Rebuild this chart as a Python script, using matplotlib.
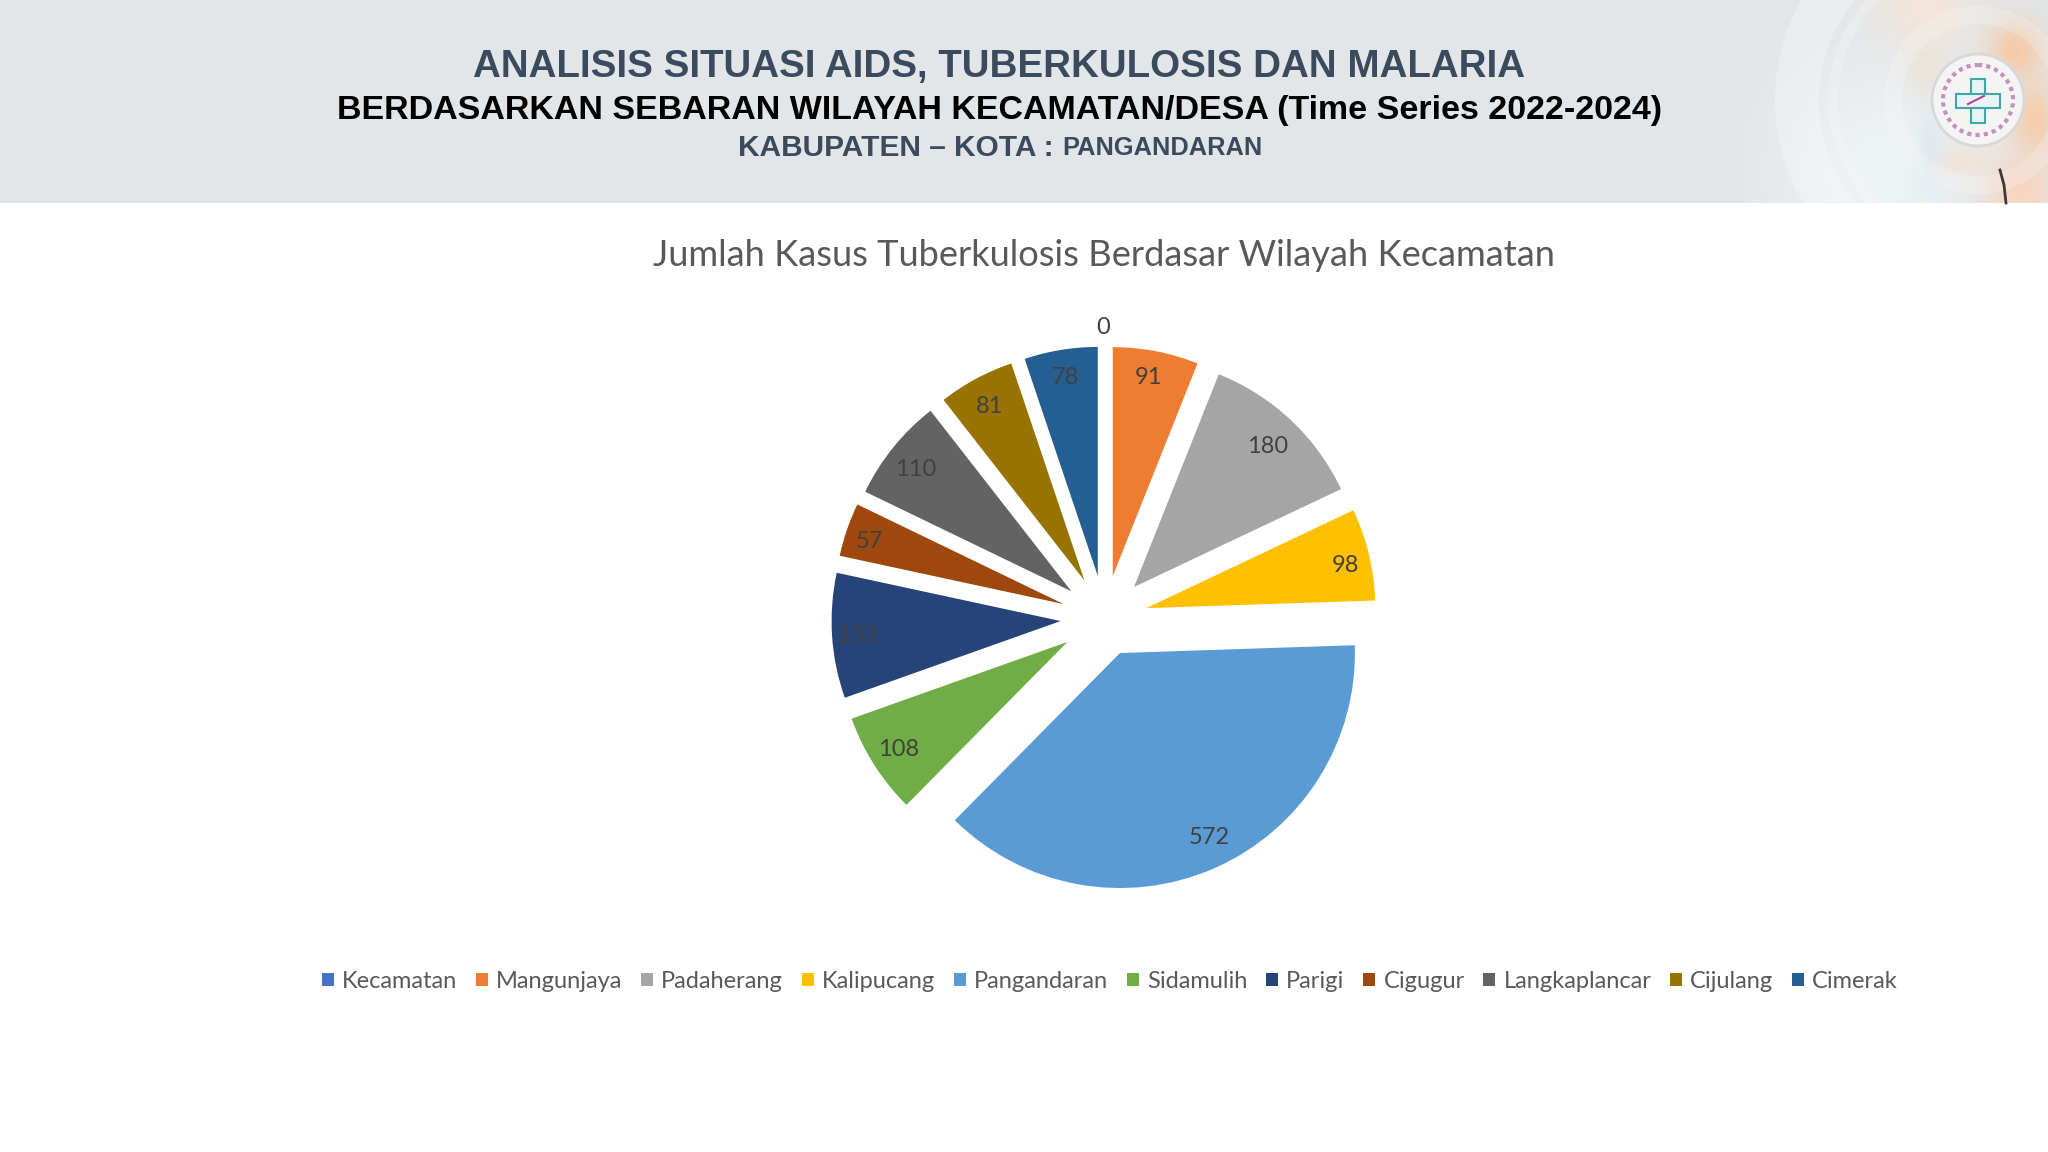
import numpy as np
import matplotlib
matplotlib.use("Agg")
import matplotlib.pyplot as plt
from matplotlib.patches import Rectangle, Circle

districts = ["Kecamatan", "Mangunjaya", "Padaherang", "Kalipucang", "Pangandaran", "Sidamulih",
             "Parigi", "Cigugur", "Langkaplancar", "Cijulang", "Cimerak"]
cases = [0, 91, 180, 98, 572, 108, 133, 57, 110, 81, 78]
colors = ["#4472C4", "#ED7D31", "#A5A5A5", "#FFC000", "#5B9BD5", "#70AD47",
          "#264478", "#9E480E", "#636363", "#997300", "#255E91"]
explode = [0.187, 0.187, 0.187, 0.187, 0.166, 0.193, 0.193, 0.19, 0.187, 0.187, 0.187]
# nudges of the value labels, in pixels (right, down)
label_dx = [0, -2, -4, 3, 8, 1, -3, -4, 1, 1, 0]
label_dy = [0, -1, 6, 5, 0, -1, 1, 3, 5, 3, 0]

W, H = 2048, 1152
fig = plt.figure(figsize=(W / 100, H / 100), dpi=100, facecolor="white")
bg = fig.add_axes([0, 0, 1, 1])
bg.set_xlim(0, W); bg.set_ylim(H, 0); bg.axis("off")

# header band with a soft picture on its right
BAND_H = 203
bg.add_patch(Rectangle((0, 0), W, BAND_H, fc="#E2E6E9", ec="none", zorder=0))
yy, xx = np.mgrid[0:BAND_H, 1700:W]
img = np.ones(xx.shape + (3,)) * np.array([0xE2, 0xE6, 0xE9]) / 255

def blob(cx, cy, sx, sy, col, a):
    global img
    m = a * np.exp(-((xx - cx) / sx) ** 2 - ((yy - cy) / sy) ** 2)[..., None]
    img = img * (1 - m) + np.array(col) * m

blob(1880, 170, 100, 110, (0.94, 0.96, 0.97), 0.9)
blob(1925, 5, 50, 45, (0.97, 0.90, 0.84), 0.8)
blob(1925, 70, 22, 28, (0.93, 0.87, 0.80), 0.5)
blob(2015, 50, 28, 30, (0.97, 0.78, 0.62), 0.85)
blob(2035, 120, 25, 40, (0.98, 0.78, 0.62), 0.8)
blob(2020, 190, 35, 35, (0.98, 0.83, 0.74), 0.9)
blob(1960, 160, 25, 16, (0.96, 0.88, 0.80), 0.7)
blob(1930, 150, 14, 40, (0.86, 0.90, 0.93), 0.6)
bg.imshow(img, extent=(1700, W, BAND_H, 0), aspect="auto", zorder=1, interpolation="bilinear")
bg.set_xlim(0, W); bg.set_ylim(H, 0)
band_clip = Rectangle((0, 0), W, BAND_H, transform=bg.transData)
for rad, wid, alpha in [(181, 44, 0.28), (145, 10, 0.2), (85, 18, 0.18)]:
    c = Circle((1978, 100), rad, fc="none", ec="white", lw=wid * 0.72, alpha=alpha, zorder=2)
    bg.add_patch(c)
    c.set_clip_path(band_clip)
bg.plot([2000, 2004, 2006], [170, 185, 203], color="#3A3A3A", lw=2, zorder=3)
bg.add_patch(Circle((1978, 100), 46, fc="#F4F4F2", ec="#D8D8D8", lw=2, zorder=4))
bg.add_patch(Circle((1978, 100), 35, fc="none", ec="#A0529A", lw=3, ls=(0, (1, 1)), alpha=0.6, zorder=5))
for x0, y0, w, h in [(1971, 79, 14, 44), (1956, 94, 44, 14)]:
    bg.add_patch(Rectangle((x0, y0), w, h, fc="#E9F3F3", ec="#3FA7A7", lw=1.5, zorder=6))
bg.plot([1968, 1984], [104, 96], color="#B0409A", lw=1.5, zorder=7)

def fit(t, width):
    r = fig.canvas.get_renderer()
    t.set_fontsize(t.get_fontsize() * width / t.get_window_extent(r).width)

head = dict(family="Liberation Sans", fontweight="bold", va="center", zorder=8)
fit(bg.text(999, 67, "ANALISIS SITUASI AIDS, TUBERKULOSIS DAN MALARIA", ha="center", color="#3B4A5C", **head), 1045)
fit(bg.text(1000, 111, "BERDASARKAN SEBARAN WILAYAH KECAMATAN/DESA (Time Series 2022-2024)", ha="center", color="black", **head), 1322)
fit(bg.text(738, 148, "KABUPATEN – KOTA :", ha="left", color="#3B4A5C", **head), 316)
fit(bg.text(1262, 148, "PANGANDARAN", ha="right", color="#3B4A5C", **head), 199)

fit(bg.text(1104, 256, "Jumlah Kasus Tuberkulosis Berdasar Wilayah Kecamatan", ha="center", va="center",
            family="Lato", color="#595959"), 902)

# pie, one radius = 229 px
R = 229
CX, CY = 1104.7, 618.2
EXT = 1.5
ax = fig.add_axes([(CX - EXT * R) / W, (H - CY - EXT * R) / H, 2 * EXT * R / W, 2 * EXT * R / H])
it = iter(cases)
wedges, texts, autotexts = ax.pie(
    cases, explode=explode, colors=colors, startangle=90, counterclock=False,
    labels=[str(cases[0])] + [""] * (len(cases) - 1), labeldistance=1.082,
    autopct=lambda p: (lambda v: "" if v == 0 else str(v))(next(it)), pctdistance=0.88,
    wedgeprops=dict(linewidth=0),
    textprops=dict(family="Lato", fontsize=17),
)
ax.set_xlim(-EXT, EXT); ax.set_ylim(-EXT, EXT)
ax.patch.set_alpha(0)
wedges[4].set_radius(235 / R)
for t, dx, dy in zip(autotexts, label_dx, label_dy):
    x, y = t.get_position()
    t.set_position((x + dx / R, y - dy / R))
    t.set_color("#404040")
    t.set_ha("center"); t.set_va("center")
x0, y0 = texts[0].get_position()
texts[0].set_position((x0 - 2 / R, y0))
texts[0].set_ha("center"); texts[0].set_va("center"); texts[0].set_color("#404040")

leg = fig.legend(wedges, districts, loc="center", bbox_to_anchor=(1110 / W, 1 - 981.5 / H), ncol=11,
                 frameon=False, labelcolor="#595959", prop=dict(family="Lato", size=17),
                 handlelength=0.5, handleheight=0.5, handletextpad=0.35, columnspacing=0.795, borderpad=0)

fig.savefig("out.png", dpi=100)
